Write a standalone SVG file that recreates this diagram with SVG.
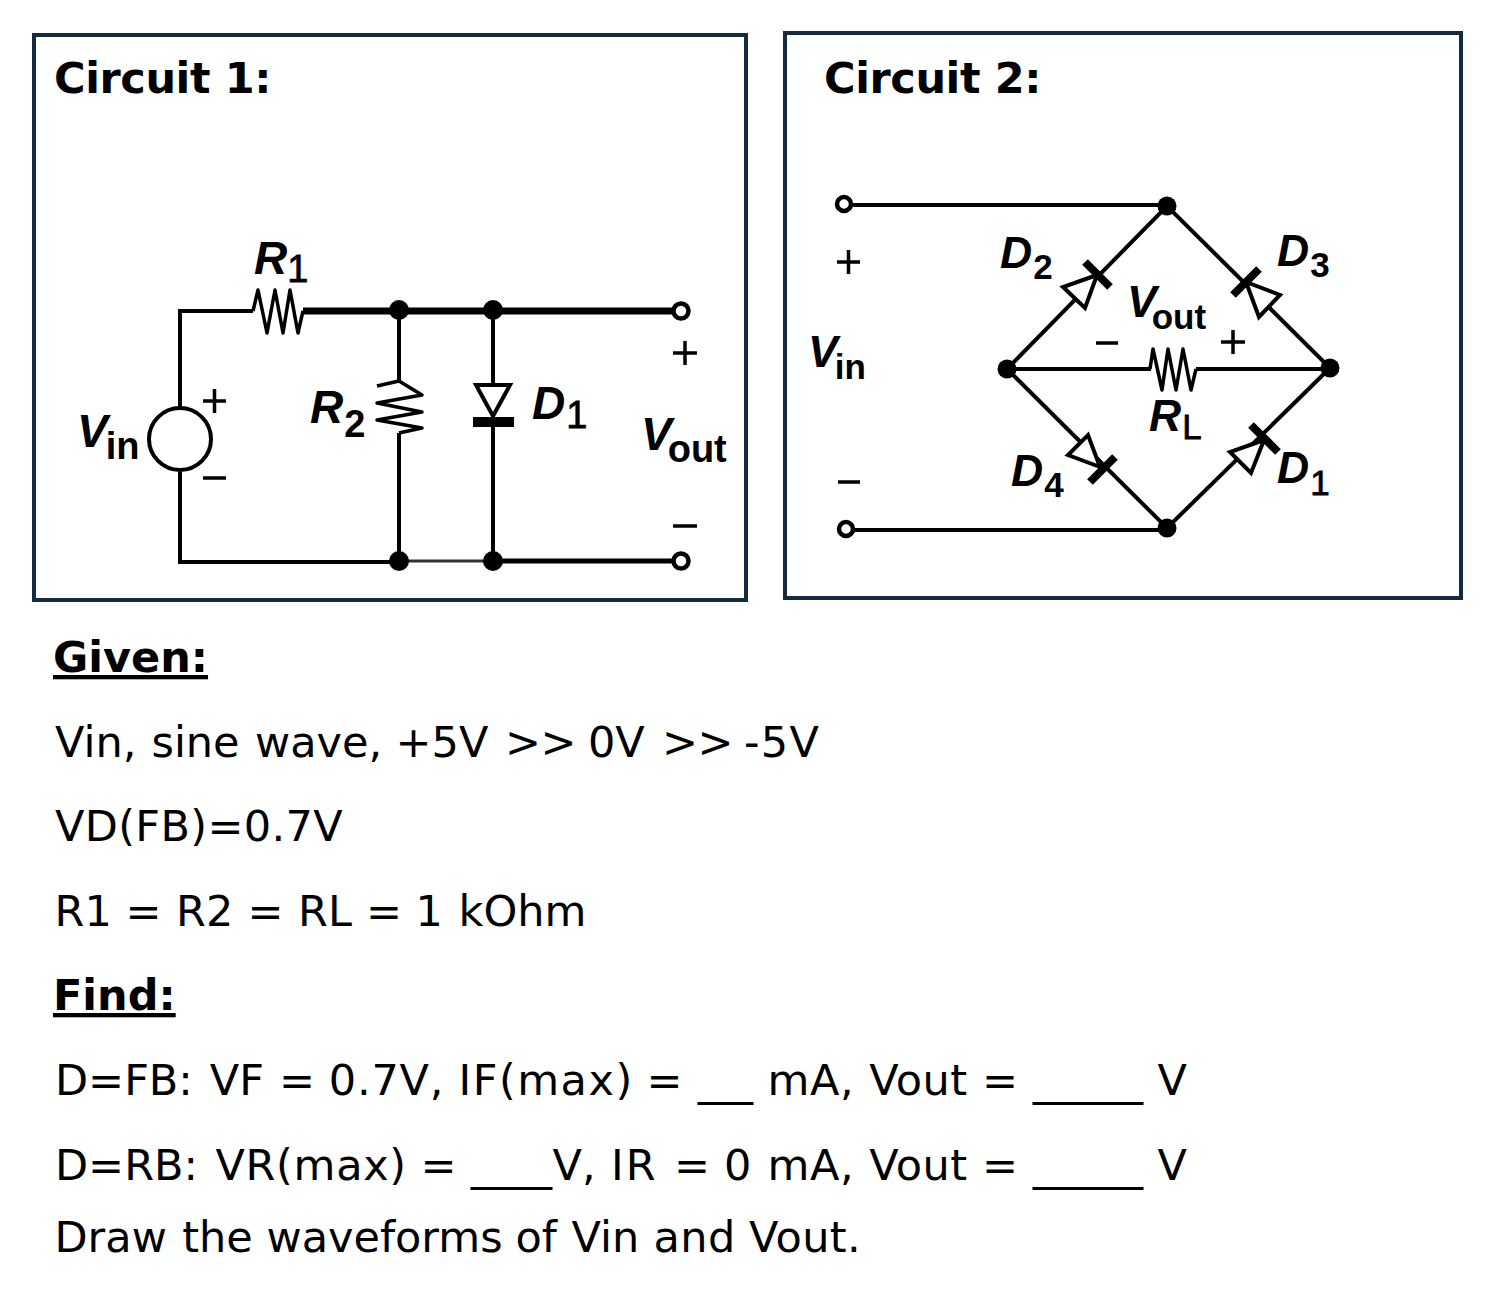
<svg xmlns="http://www.w3.org/2000/svg" width="1488" height="1302" viewBox="0 0 1488 1302">
<style>
.box{fill:#fff;stroke:#152c40;stroke-width:4}
.w{fill:none;stroke:#000;stroke-width:4;stroke-linejoin:miter}
.z{fill:none;stroke:#000;stroke-width:3.500;stroke-linejoin:round}
.t{fill:#fff;stroke:#000;stroke-width:4;stroke-linejoin:miter}
.bar{stroke:#000;stroke-width:8;fill:none}
.dot{fill:#000}
.term{fill:#fff;stroke:#000;stroke-width:4.500}
.sign{stroke:#000;stroke-width:3.500;fill:none}
.main{font-family:"DejaVu Sans","Verdana",sans-serif;font-size:43px;fill:#000}
.head{font-family:"DejaVu Sans","Verdana",sans-serif;font-size:43px;font-weight:bold;fill:#000}
.sym{font-family:"Liberation Sans",Arial,sans-serif;font-weight:bold;font-style:italic;font-size:46px;fill:#000}
.s2{font-size:44.500px}
.sub{font-style:normal;font-size:38px}
.s2 .sub{font-size:35px}
.thin{font-weight:normal;stroke:#000;stroke-width:.8}
</style>
<rect width="1488" height="1302" fill="#fff"/>
<g id="circuit1-frame"><rect class="box" x="34" y="35" width="712" height="565"/><text class="head" x="54" y="93" letter-spacing="-.4">Circuit 1:</text></g>
<g id="circuit2-frame"><rect class="box" x="785" y="33" width="676" height="565"/><text class="head" x="824" y="93" letter-spacing="-.4">Circuit 2:</text></g>
<g id="connectors">
<path class="w" d="M180,407V311H253"/>
<path class="w" d="M180,472V562H399"/>
<path d="M303,311H672" fill="none" stroke="#000" stroke-width="7"/>
<path d="M399,561H493" fill="none" stroke="#333" stroke-width="3"/>
<path d="M493,561H672" fill="none" stroke="#000" stroke-width="5"/>
<path class="w" d="M399,311V381M399,433V561M493,311V385M493,427V561"/>
<path class="w" d="M853,205H1167M854,530H1167"/>
<path class="w" d="M1007,369H1151M1196,369H1330"/>
<path class="w" d="M1007,369L1167,206L1330,368L1167,528L1007,369"/>
</g>
<g id="Vin1"><circle cx="180" cy="439" r="31" fill="#fff" stroke="#000" stroke-width="4"/><path class="sign" d="M203,401H226M214.500,389V413M203,478H226"/><text class="sym" x="77" y="447">V<tspan class="sub" dx="-2" dy="12">in</tspan></text></g>
<g id="R1"><path class="z" d="M253,311L258,290L267,333L275,290L283,333L290,290L298,333L303,311"/><text class="sym" x="254" y="274">R<tspan class="sub thin" dx="0" dy="8">1</tspan></text></g>
<g id="R2"><path class="z" d="M377,386L399,381L422,395L377,403L422,412L377,420L422,428L399,433"/><text class="sym" x="310" y="423">R<tspan class="sub" dx="1" dy="14">2</tspan></text></g>
<g id="D1a"><path class="t" d="M476,385H510L493,416Z"/><rect class="dot" x="473" y="417" width="41" height="10"/><text class="sym" x="532" y="419">D<tspan class="sub thin" dx="1" dy="9">1</tspan></text></g>
<g id="Vout1"><circle class="term" cx="681" cy="311" r="7.500"/><circle class="term" cx="681" cy="561" r="7.500"/><path class="sign" d="M673,353H697M685,341V365M673,526H697"/><text class="sym" x="641" y="450">V<tspan class="sub" dx="-4" dy="12">out</tspan></text></g>
<g id="n1"><circle class="dot" cx="399" cy="310" r="10"/></g>
<g id="n2"><circle class="dot" cx="493" cy="310" r="10"/></g>
<g id="n3"><circle class="dot" cx="399" cy="561" r="10"/></g>
<g id="n4"><circle class="dot" cx="493" cy="561" r="10"/></g>
<g id="Vin2"><circle class="term" cx="844" cy="204" r="7"/><circle class="term" cx="846" cy="529" r="7"/><path class="sign" d="M837,262H860M848.500,250V274M838,482H860"/><text class="sym s2" x="808" y="367">V<tspan class="sub" dx="-3" dy="12">in</tspan></text></g>
<g id="D2"><path class="t" d="M1097,275L1063,287L1085,308Z"/><path class="bar" d="M1085,262L1110,287"/><text class="sym s2" x="1000" y="268">D<tspan class="sub" dx="1" dy="11">2</tspan></text></g>
<g id="D3"><path class="t" d="M1246,282L1280,295L1259,317Z"/><path class="bar" d="M1233,295L1259,269"/><text class="sym s2" x="1277" y="266">D<tspan class="sub" dx="1" dy="11">3</tspan></text></g>
<g id="D4"><path class="t" d="M1100,467L1068,455L1088,435Z"/><path class="bar" d="M1090,482L1115,457"/><text class="sym s2" x="1011" y="486">D<tspan class="sub" dx="1" dy="11">4</tspan></text></g>
<g id="D1b"><path class="t" d="M1264,440L1230,452L1251,473Z"/><path class="bar" d="M1251,425L1278,452"/><text class="sym s2" x="1277" y="483">D<tspan class="sub thin" dx="1" dy="12">1</tspan></text></g>
<g id="RL"><path class="z" d="M1150,369L1153,349L1162,390L1168,349L1176,390L1183,349L1191,390L1196,369"/><text class="sym s2" x="1149" y="431">R<tspan class="sub thin" dx="1" dy="8">L</tspan></text></g>
<g id="Vout2"><text class="sym s2" x="1127" y="317">V<tspan class="sub" dx="-5" dy="12">out</tspan></text><path class="sign" d="M1096,343H1118M1221,342H1245M1233,330V354"/></g>
<g id="n5"><circle class="dot" cx="1167" cy="206" r="9.500"/></g>
<g id="n6"><circle class="dot" cx="1007" cy="369" r="9.500"/></g>
<g id="n7"><circle class="dot" cx="1330" cy="368" r="9.500"/></g>
<g id="n8"><circle class="dot" cx="1167" cy="528" r="9.500"/></g>
<g id="text">
<text class="head" x="53" y="672" text-decoration="underline">Given:</text>
<text class="main" y="757"><tspan x="55">Vin,</tspan> <tspan x="151.500">sine</tspan> <tspan x="255">wave,</tspan> <tspan x="395.500">+5V</tspan> <tspan x="505" letter-spacing="-.6">&gt;&gt;</tspan> <tspan x="588">0V</tspan> <tspan x="662" letter-spacing="-.6">&gt;&gt;</tspan> <tspan x="744" letter-spacing="1.300">-5V</tspan></text>
<text class="main" x="55" y="841" letter-spacing=".35">VD(FB)=0.7V</text>
<text class="main" y="926"><tspan x="54.500">R1</tspan> <tspan x="125.500">=</tspan> <tspan x="176">R2</tspan> <tspan x="247.500">=</tspan> <tspan x="298">RL</tspan> <tspan x="366">=</tspan> <tspan x="415.500">1</tspan> <tspan x="458.500">kOhm</tspan></text>
<text class="head" x="53" y="1010" text-decoration="underline">Find:</text>
<text class="main" y="1095"><tspan x="55">D=FB:</tspan> <tspan x="209.800">VF</tspan> <tspan x="279">=</tspan> <tspan x="328.800" letter-spacing=".8">0.7V,</tspan> <tspan x="458.500" letter-spacing="1.500">IF(max)</tspan> <tspan x="646.500">=</tspan> <tspan x="698" textLength="55" lengthAdjust="spacingAndGlyphs">__</tspan> <tspan x="767.500" letter-spacing=".6">mA,</tspan> <tspan x="869.300" letter-spacing=".4">Vout</tspan> <tspan x="982">=</tspan> <tspan x="1033" textLength="110" lengthAdjust="spacingAndGlyphs">____</tspan> <tspan x="1157.500">V</tspan></text>
<text class="main" y="1180"><tspan x="55">D=RB:</tspan> <tspan x="215.400" letter-spacing=".7">VR(max)</tspan> <tspan x="420.500">=</tspan> <tspan x="471" textLength="81" lengthAdjust="spacingAndGlyphs">___</tspan><tspan x="552.500">V,</tspan> <tspan x="611" letter-spacing="2">IR</tspan> <tspan x="674">=</tspan> <tspan x="724">0</tspan> <tspan x="767.500" letter-spacing=".6">mA,</tspan> <tspan x="869.300" letter-spacing=".4">Vout</tspan> <tspan x="982">=</tspan> <tspan x="1033" textLength="110" lengthAdjust="spacingAndGlyphs">____</tspan> <tspan x="1157.500">V</tspan></text>
<text class="main" y="1252"><tspan x="54.500">Draw</tspan> <tspan x="182.200">the</tspan> <tspan x="266.500">waveforms</tspan> <tspan x="515.500">of</tspan> <tspan x="571.500">Vin</tspan> <tspan x="653.500" letter-spacing=".5">and</tspan> <tspan x="749" letter-spacing=".4">Vout.</tspan></text>
</g>
</svg>
